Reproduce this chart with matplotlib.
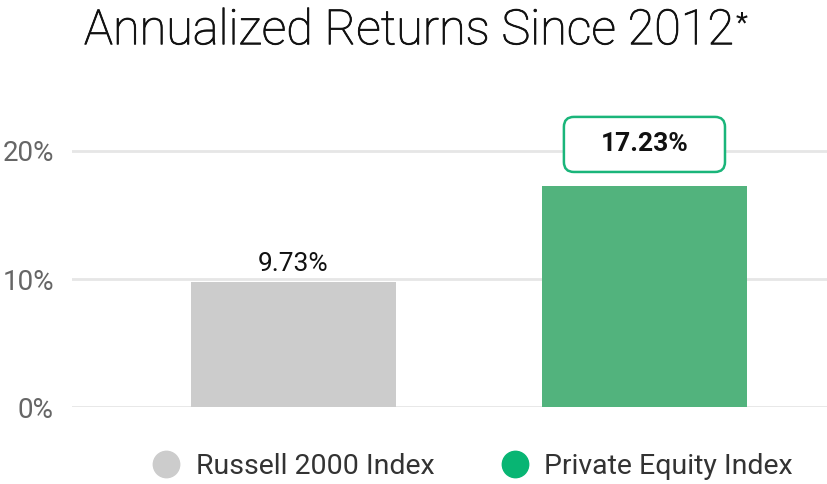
import matplotlib
matplotlib.use("Agg")
import matplotlib.pyplot as plt
import matplotlib.patheffects as pe
from matplotlib.lines import Line2D
from matplotlib.patches import FancyBboxPatch

categories = ["Russell 2000 Index", "Private Equity Index"]
values = [9.73, 17.23]
value_labels = ["9.73%", "17.23%"]
bar_colors = ["#cccccc", "#52b37d"]
legend_colors = ["#cccccc", "#08b573"]
yticks = [0, 10, 20]
ytick_labels = ["0%", "10%", "20%"]
title = "Annualized Returns Since 2012"
title_mark = "*"

plt.rcParams['font.family'] = ['Roboto', 'DejaVu Sans']

fig = plt.figure(figsize=(8.28, 4.84), dpi=100)
ax = fig.add_axes([0.087, 0.159, 0.913, 0.582])

x = list(range(len(categories)))
ax.bar(x, values, width=0.584, color=bar_colors, zorder=2)
ax.set_xlim(-0.631, 1.523)
ax.set_ylim(0, 22)
ax.set_yticks(yticks)
ax.set_yticklabels(ytick_labels, color="#666666", fontsize=20)
ax.set_xticks([])
ax.tick_params(axis='y', length=0, pad=13)
for s in ax.spines.values():
    s.set_visible(False)
ax.grid(axis='y', color="#e6e6e6", linewidth=2, zorder=0)
ax.set_axisbelow(True)

# value labels
ax.annotate(value_labels[0], (x[0], values[0]), xytext=(0, 5), textcoords='offset points',
            ha='center', va='bottom', fontsize=19, color='#111111')

# highlighted label with rounded box
box_w, box_h = 0.459, 4.3
box_gap = 1.13
bx = x[1] - box_w / 2
by = values[1] + box_gap
rx = 0.0285
ry = 0.78
patch = FancyBboxPatch((bx, by), box_w, box_h,
                       boxstyle=f"round,pad=0,rounding_size={rx}",
                       mutation_aspect=ry / rx,
                       fc='white', ec='#1ab57a', lw=1.8, clip_on=False, zorder=3)
ax.add_patch(patch)
ax.text(x[1], by + box_h / 2, value_labels[1], ha='center', va='center', fontsize=19,
        color='#111111', fontweight='bold', zorder=4, clip_on=False)

t = fig.text(0.494, 0.936, title, ha='center', va='center', fontsize=35,
             fontweight='light', color='#111111',
             path_effects=[pe.withStroke(linewidth=0.6, foreground='#111111')])
fig.text(0, 0, title_mark, fontsize=20, color='#111111', ha='left', va='top',
         transform=fig.transFigure)
# place asterisk right after title using the title's extent
fig.canvas.draw()
bb = t.get_window_extent().transformed(fig.transFigure.inverted())
fig.texts[-1].set_position((bb.x1 + 0.002, bb.y1 - 0.005))

handles = [Line2D([0], [0], marker='o', linestyle='none', markersize=19,
                  markerfacecolor=c, markeredgecolor=c) for c in legend_colors]
fig.legend(handles, categories, loc='center', bbox_to_anchor=(0.569, 0.037), ncol=2,
           frameon=False, fontsize=20.5, labelcolor='#333333', handletextpad=0.45,
           columnspacing=2.2, handlelength=1.2)

fig.savefig("out.png", dpi=100)
